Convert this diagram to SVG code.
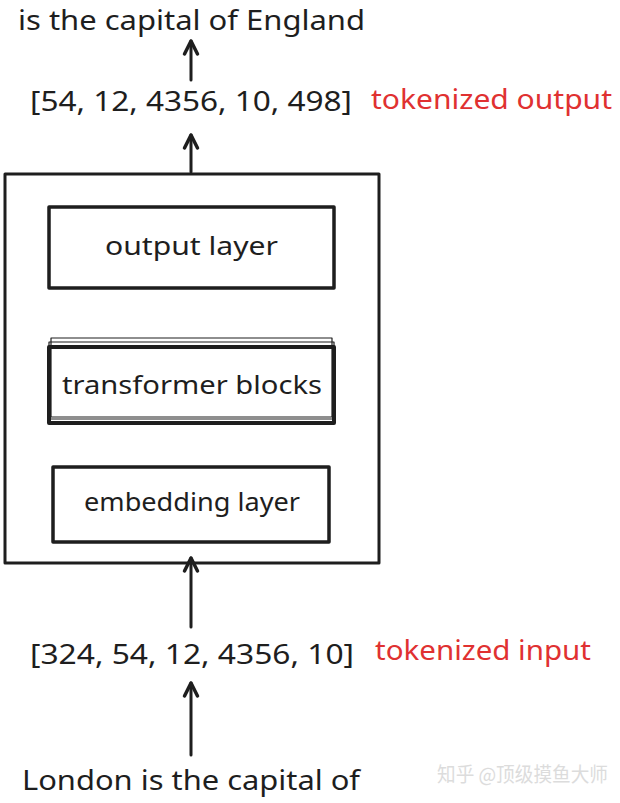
<svg xmlns="http://www.w3.org/2000/svg" width="620" height="803" viewBox="0 0 620 803">
<defs>
<style>
.t{font-family:"Noto Sans","Liberation Sans",sans-serif;fill:#1e1e1e;}
.r{fill:#e03131;}
.box{fill:none;stroke:#1e1e1e;stroke-linejoin:round;stroke-linecap:round;}
.conn{stroke:#1e1e1e;stroke-width:3;fill:none;stroke-linecap:round;}
.wm{font-family:"Noto Sans CJK SC","Noto Sans",sans-serif;fill:#dcdcdc;font-size:20px;}
</style>
<marker id="ah" viewBox="0 0 20 20" refX="16" refY="10" markerWidth="20" markerHeight="20" markerUnits="userSpaceOnUse" orient="auto-start-reverse">
<path d="M3 3.5 L16 10 L3 16.5" fill="none" stroke="#1e1e1e" stroke-width="3.5" stroke-linecap="round" stroke-linejoin="round"/>
</marker>
</defs>
<rect width="620" height="803" fill="#ffffff"/>

<g id="connectors">
<line class="conn" x1="191" y1="80" x2="191" y2="41" marker-end="url(#ah)"/>
<line class="conn" x1="191" y1="172" x2="191" y2="135" marker-end="url(#ah)"/>
<line class="conn" x1="191" y1="627" x2="191" y2="558" marker-end="url(#ah)"/>
<line class="conn" x1="191" y1="755" x2="191" y2="683" marker-end="url(#ah)"/>
</g>

<g id="output-text">
<text class="t" x="18" y="30" font-size="27" textLength="347" lengthAdjust="spacingAndGlyphs">is the capital of England</text>
</g>

<g id="tokenized-output">
<text class="t" x="30" y="111" font-size="27" textLength="322" lengthAdjust="spacingAndGlyphs">[54, 12, 4356, 10, 498]</text>
<text class="t r" x="371" y="109" font-size="27" textLength="241" lengthAdjust="spacingAndGlyphs">tokenized output</text>
</g>

<g id="model">
<rect class="box" x="5" y="174" width="374" height="389" stroke-width="3"/>
</g>

<g id="output-layer">
<rect class="box" x="49" y="207" width="285" height="81" stroke-width="3.5"/>
<text class="t" x="105" y="255" font-size="25" textLength="173" lengthAdjust="spacingAndGlyphs">output layer</text>
</g>

<g id="transformer-blocks">
<rect class="box" x="51" y="338" width="281" height="79" stroke-width="1.2"/>
<rect class="box" x="49" y="342" width="285" height="77" stroke-width="1.2"/>
<rect class="box" x="49" y="347" width="285" height="76" stroke-width="4"/>
<text class="t" x="62" y="394" font-size="25" textLength="260" lengthAdjust="spacingAndGlyphs">transformer blocks</text>
</g>

<g id="embedding-layer">
<rect class="box" x="53" y="467" width="276" height="75" stroke-width="3.5"/>
<text class="t" x="84" y="511" font-size="25" textLength="216" lengthAdjust="spacingAndGlyphs">embedding layer</text>
</g>

<g id="tokenized-input">
<text class="t" x="30" y="664" font-size="27" textLength="324" lengthAdjust="spacingAndGlyphs">[324, 54, 12, 4356, 10]</text>
<text class="t r" x="375" y="660" font-size="27" textLength="216" lengthAdjust="spacingAndGlyphs">tokenized input</text>
</g>

<g id="input-text">
<text class="t" x="22" y="790" font-size="27" textLength="338" lengthAdjust="spacingAndGlyphs">London is the capital of</text>
</g>

<text class="wm" x="437" y="782" textLength="171" lengthAdjust="spacingAndGlyphs">知乎 @顶级摸鱼大师</text>
</svg>
